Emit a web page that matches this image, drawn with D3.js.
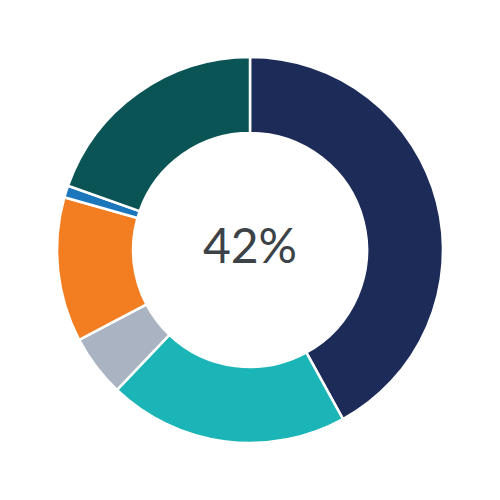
<!DOCTYPE html>
<html>
<head>
<meta charset="utf-8">
<script src="https://cdn.jsdelivr.net/npm/d3@7"></script>
<style>
  html, body { margin: 0; padding: 0; background: #fff; }
</style>
</head>
<body>
<div id="chart"></div>
<script>
var categories = ["A", "B", "C", "D", "E", "F"];
var values = [42, 20.1, 5.2, 12.1, 1, 19.6];
var colors = ["#1d2b59", "#1cb5b7", "#a9b3c1", "#f37d21", "#1b76bc", "#0b5456"];
var centerLabel = "42%";

var width = 500, height = 500,
  outerR = 193, innerR = 117;

var svg = d3.select("#chart").append("svg")
  .attr("width", width)
  .attr("height", height);

var g = svg.append("g")
  .attr("transform", "translate(" + width / 2 + "," + height / 2 + ")");

var color = d3.scaleOrdinal()
  .domain(categories)
  .range(colors);

var pie = d3.pie()
  .sort(null)
  .value(function (d, i) { return values[i]; });

var arc = d3.arc()
  .innerRadius(innerR)
  .outerRadius(outerR);

g.selectAll("path.slice")
  .data(pie(categories))
  .enter().append("path")
  .attr("class", "slice")
  .attr("d", arc)
  .style("fill", function (d) { return color(d.data); })
  .style("stroke", "#fff")
  .style("stroke-width", 2.5);

g.append("text")
  .attr("text-anchor", "middle")
  .attr("y", 13)
  .style("font-family", "Lato, 'Open Sans', sans-serif")
  .style("font-weight", 400)
  .style("font-size", "48px")
  .style("fill", "#3d4247")
  .text(centerLabel);
</script>
</body>
</html>
